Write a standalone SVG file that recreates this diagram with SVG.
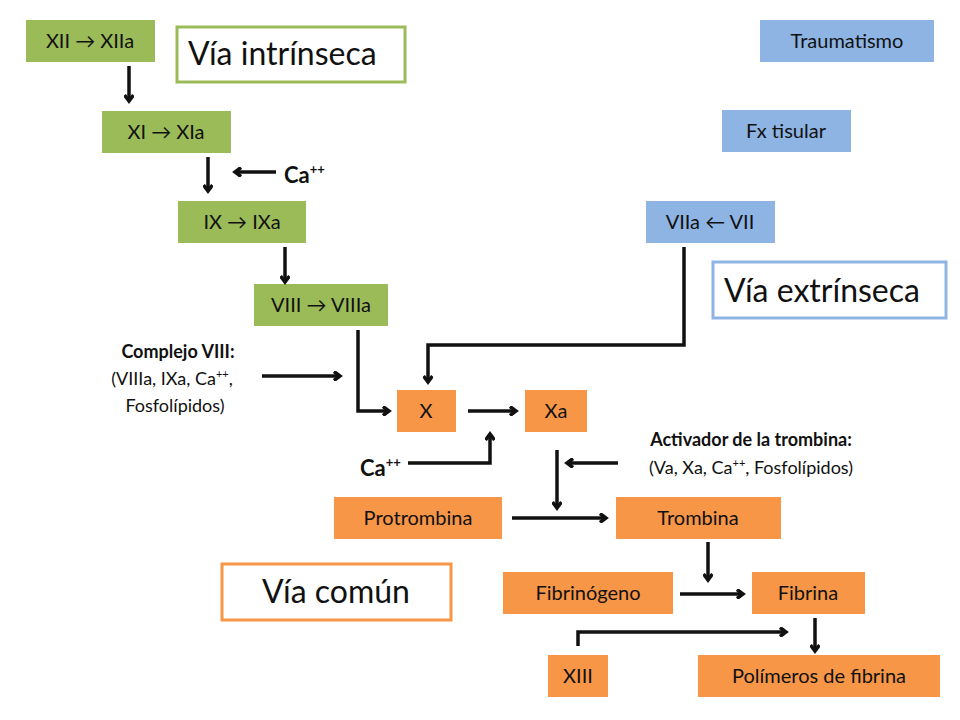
<svg xmlns="http://www.w3.org/2000/svg" width="960" height="720" viewBox="0 0 960 720">
<style>
text{font-family:Lato,"Open Sans",sans-serif;fill:#111;}
.n{font-size:20px;text-anchor:middle;}
.t{font-size:32px;}
.s{font-size:18px;text-anchor:middle;}
.g{fill:#9BBB59;}.b{fill:#8EB4E3;}.o{fill:#F79646;}
.c{fill:none;stroke:#111;stroke-width:3.5;marker-end:url(#a);}
</style>
<defs><marker id="a" markerWidth="10" markerHeight="10" refX="7" refY="5" orient="auto" markerUnits="userSpaceOnUse"><path d="M1,0.5 L7,5 L1,9.5" fill="none" stroke="#111" stroke-width="3.5"/></marker></defs>
<rect width="960" height="720" fill="#fff"/>
<g id="xii"><rect class="g" x="26" y="20" width="129" height="42"/><text class="n" x="90" y="48">XII → XIIa</text></g>
<g id="via-intr"><rect x="177" y="27" width="228" height="55" fill="#fff" stroke="#9BBB59" stroke-width="3"/><text class="t" x="188" y="65">Vía intrínseca</text></g>
<g id="xi"><rect class="g" x="102" y="111" width="129" height="42"/><text class="n" x="166" y="139">XI → XIa</text></g>
<g id="ix"><rect class="g" x="178" y="201" width="128" height="42"/><text class="n" x="242" y="229">IX → IXa</text></g>
<g id="viii"><rect class="g" x="254" y="284" width="134" height="42"/><text class="n" x="321" y="312">VIII → VIIIa</text></g>
<g id="trauma"><rect class="b" x="760" y="20" width="174" height="42"/><text class="n" x="847" y="48">Traumatismo</text></g>
<g id="fx"><rect class="b" x="722" y="110" width="129" height="42"/><text class="n" x="786" y="138">Fx tisular</text></g>
<g id="vii"><rect class="b" x="646" y="201" width="129" height="42"/><text class="n" x="710" y="229">VIIa ← VII</text></g>
<g id="via-extr"><rect x="713" y="262" width="233" height="56" fill="#fff" stroke="#8EB4E3" stroke-width="3"/><text class="t" x="724" y="302">Vía extrínseca</text></g>
<g id="ca1"><text x="284" y="183" style="font-size:22px;font-weight:bold">Ca<tspan dy="-9" style="font-size:13px">++</tspan></text></g>
<g id="complejo"><text class="s" x="178" y="358" style="font-weight:bold">Complejo VIII:</text><text class="s" x="172" y="385">(VIIIa, IXa, Ca<tspan dy="-7" style="font-size:11px">++</tspan><tspan dy="7">,</tspan></text><text class="s" x="175" y="412">Fosfolípidos)</text></g>
<g id="x"><rect class="o" x="397" y="390" width="59" height="42"/><text class="n" x="426" y="418">X</text></g>
<g id="xa"><rect class="o" x="525" y="390" width="62" height="42"/><text class="n" x="556" y="418">Xa</text></g>
<g id="ca2"><text x="360" y="476" style="font-size:22px;font-weight:bold">Ca<tspan dy="-9" style="font-size:13px">++</tspan></text></g>
<g id="activador"><text class="s" x="751" y="446" style="font-weight:bold">Activador de la trombina:</text><text class="s" x="751" y="474">(Va, Xa, Ca<tspan dy="-7" style="font-size:11px">++</tspan><tspan dy="7">, Fosfolípidos)</tspan></text></g>
<g id="protrombina"><rect class="o" x="334" y="497" width="168" height="42"/><text class="n" x="418" y="525">Protrombina</text></g>
<g id="trombina"><rect class="o" x="616" y="497" width="165" height="42"/><text class="n" x="698" y="525">Trombina</text></g>
<g id="via-comun"><rect x="222" y="564" width="229" height="56" fill="#fff" stroke="#F79646" stroke-width="3"/><text class="t" x="336" y="603" style="text-anchor:middle">Vía común</text></g>
<g id="fibrinogeno"><rect class="o" x="503" y="572" width="170" height="42"/><text class="n" x="588" y="600">Fibrinógeno</text></g>
<g id="fibrina"><rect class="o" x="752" y="572" width="113" height="42"/><text class="n" x="808" y="600">Fibrina</text></g>
<g id="xiii"><rect class="o" x="548" y="655" width="60" height="42"/><text class="n" x="578" y="683">XIII</text></g>
<g id="polimeros"><rect class="o" x="698" y="655" width="242" height="42"/><text class="n" x="819" y="683">Polímeros de fibrina</text></g>
<g id="connectors">
<path class="c" d="M129,66 V101"/>
<path class="c" d="M208,157 V191"/>
<path class="c" d="M276,172 H235"/>
<path class="c" d="M285,247 V282"/>
<path class="c" d="M358,330 V411 H389"/>
<path class="c" d="M684,247 V345 H428 V382"/>
<path class="c" d="M262,376 H340"/>
<path class="c" d="M468,411 H516"/>
<path class="c" d="M408,463 H490 V434"/>
<path class="c" d="M557,450 V508"/>
<path class="c" d="M618,463 H567"/>
<path class="c" d="M512,518 H606"/>
<path class="c" d="M708,542 V580"/>
<path class="c" d="M680,594 H743"/>
<path class="c" d="M578,646 V632 H786"/>
<path class="c" d="M815,618 V651"/>
</g>
</svg>
